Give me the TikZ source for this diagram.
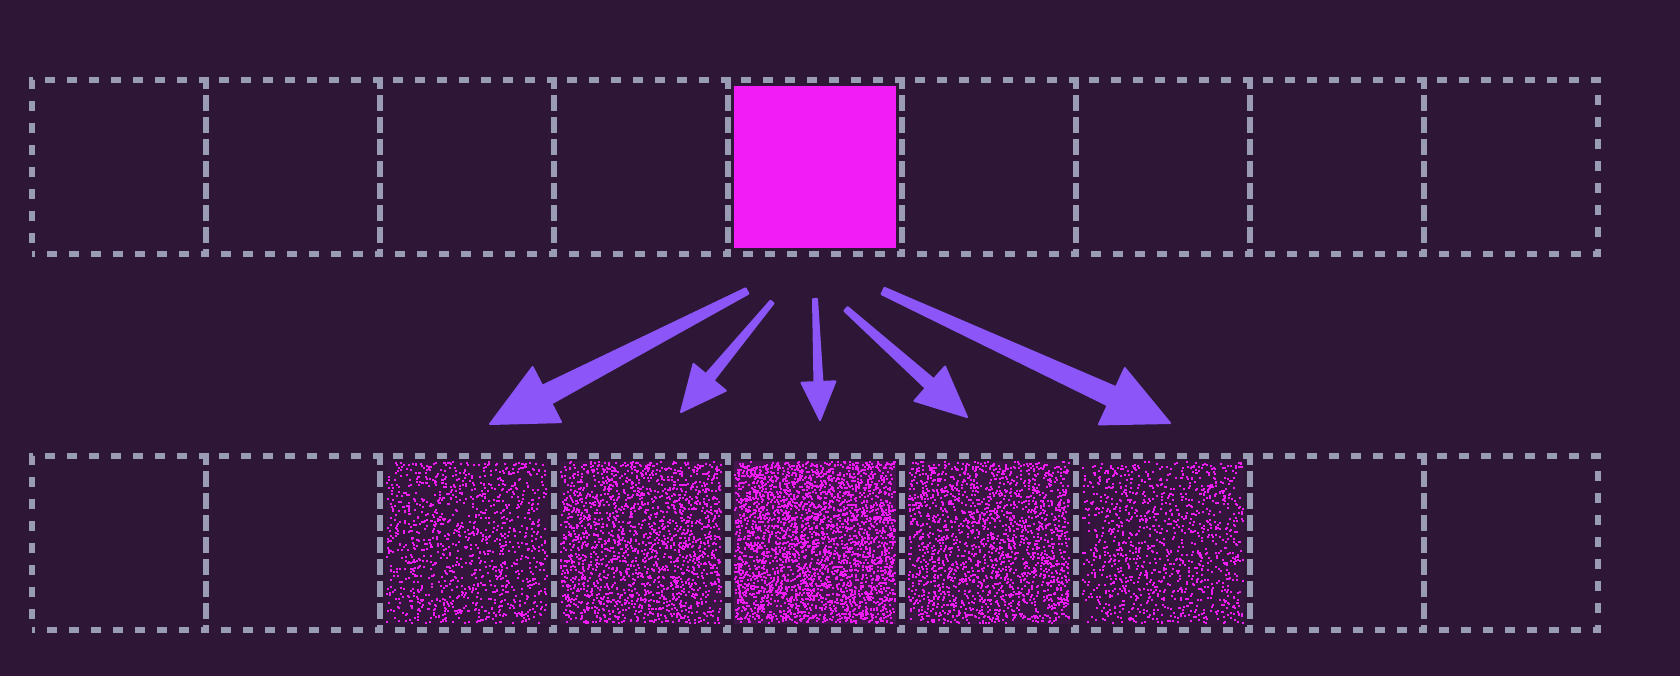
\documentclass[tikz,border=0pt]{standalone}
\usetikzlibrary{calc,positioning}
\definecolor{bgc}{HTML}{2D1636}
\definecolor{dashc}{HTML}{9A9CB6}
\definecolor{hotc}{HTML}{F21CF6}
\definecolor{arrc}{HTML}{8B55F7}

% tapered arrow: start, tip, tail/shaft/head half widths, head length
\newcommand\fanarrow[6]{%
	\coordinate (hb) at ($(#2)!#6pt!(#1)$);
	\filldraw[Fan] ($(#1)!#3pt!90:(#2)$) -- ($(hb)!#4pt!90:(#2)$) -- ($(hb)!#5pt!90:(#2)$)
		-- (#2) -- ($(hb)!#5pt!-90:(#2)$) -- ($(hb)!#4pt!-90:(#2)$) -- ($(#1)!#3pt!-90:(#2)$) -- cycle;}

\begin{document}
\begin{tikzpicture}[x=1pt, y=-1pt,
	cell/.style = {draw=dashc, line width=6pt, dash pattern=on 10pt off 12pt, dash phase=7pt,
		minimum size=174pt, inner sep=0pt, outer sep=0pt},
	Fan/.style = {fill=arrc, draw=arrc, line width=2pt, line join=round}
]
\useasboundingbox (0,0) rectangle (1680,676);
\fill[bgc] (0,0) rectangle (1680,676);
\pgfmathsetseed{7}

% noise fills under the bottom row
\foreach \c/\n/\o in {3/1150/0.04, 4/1950/0.07, 5/3100/0.12, 6/1950/0.07, 7/1150/0.04}
{
	\coordinate (nw) at ({32+174*(\c-1)+6},461);
	\fill[hotc, opacity=\o] (nw) rectangle ++(162,163);
	\foreach \k in {1,...,\n}
		\fill[hotc] (nw) ++({rnd*160},{rnd*161}) rectangle ++(2,2);
}

% two rows of cells
\foreach \i in {1,...,9}
{
	\node[cell] (t\i) at ({32+87+174*(\i-1)},167.5) {};
	\node[cell] (b\i) at ({32+87+174*(\i-1)},542.5) {};
}
\node[fill=hotc, minimum size=162pt, inner sep=0pt] (src) at ([yshift=0.5pt] t5) {};

% arrows fanning out
\foreach \n/\s/\e/\t/\w/\h/\l in {
	1/{747,291}/{490,424}/3/10/31/64,
	2/{772,302}/{681,412}/2/5/21/45,
	3/{815,299}/{820,420}/2/4/17/38,
	4/{846,309}/{967,417}/2.5/6/23/50,
	5/{883,291}/{1170,423}/3.5/10/31/64}
{
	\coordinate (s\n) at (\s);
	\coordinate (e\n) at (\e);
	\fanarrow{s\n}{e\n}{\t}{\w}{\h}{\l}
}
\end{tikzpicture}
\end{document}
